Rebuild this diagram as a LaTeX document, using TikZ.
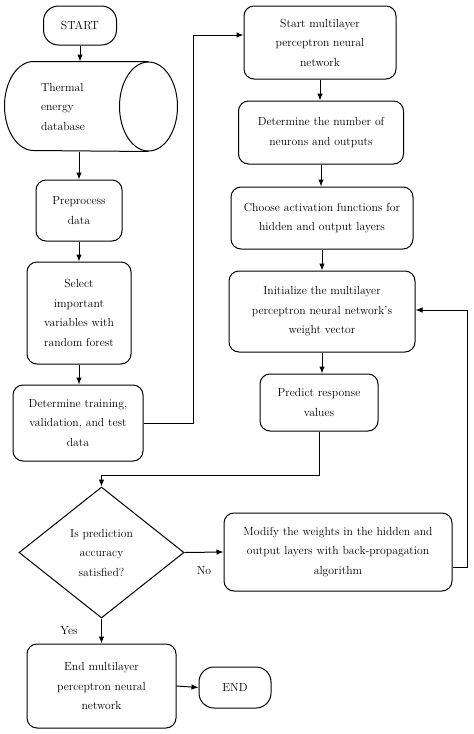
\documentclass[tikz,border=0pt]{standalone}
\usepackage{tikz}
\usetikzlibrary{shapes, arrows.meta, positioning, calc}
\tikzset{
    process/.style={
        rectangle,
        rounded corners=10pt,
        line width=1pt,
        draw=black,
        align=center,
        inner sep=0pt,
        font=\fontsize{11.7}{19.5}\selectfont,
    },
    terminal/.style={
        process,
        rounded corners=15pt,
    },
    decision/.style={
        diamond,
        line width=1pt,
        draw=black,
        align=center,
        inner sep=0pt,
        aspect=1.26,
        font=\fontsize{11.7}{19.5}\selectfont,
    },
    database/.style={
        rectangle,
        align=left,
        inner sep=0pt,
        font=\fontsize{11.7}{19.5}\selectfont,
    },
    label/.style={
        font=\fontsize{11.7}{14}\selectfont,
    },
}

\begin{document}
\begin{tikzpicture}[x=1pt,y=-1pt,>={Latex[length=7pt,width=5.5pt]},line width=1pt]
      \useasboundingbox (0,0) rectangle (474,734);

      % left column
      \node [terminal, minimum width=73pt, minimum height=39pt] (start) at (80,25.5) {START};
      \node [database, minimum width=172pt, minimum height=89pt, text width=100pt] (db) at (91,106.5) {Thermal\\energy\\database};
      % the drum round the database text
      \draw ($(db.north east)+(-29,0)$) -- ($(db.north west)+(29,0)$)
            arc[start angle=270, end angle=90, x radius=29, y radius=44.5]
            -- ($(db.south east)+(-29,0)$);
      \draw ($(db.east)+(-29,0)$) ellipse [x radius=29, y radius=44.5];
      \node [process, minimum width=86pt, minimum height=61pt] (prep) at (79,210.5) {Preprocess\\data};
      \node [process, minimum width=104pt, minimum height=102pt] (select) at (79,313) {Select\\important\\variables with\\random forest};
      \node [process, minimum width=130pt, minimum height=76pt] (split) at (78,423) {Determine training,\\validation, and test\\data};

      % right column
      \node [process, minimum width=152pt, minimum height=73pt] (mlp) at (320,42.5) {Start multilayer\\perceptron neural\\network};
      \node [process, minimum width=165pt, minimum height=63pt] (neurons) at (321,132.5) {Determine the number of\\neurons and outputs};
      \node [process, minimum width=182pt, minimum height=62pt] (act) at (322,218) {Choose activation functions for\\hidden and output layers};
      \node [process, minimum width=186pt, minimum height=81pt] (init) at (322,311.5) {Initialize the multilayer\\perceptron neural network's\\weight vector};
      \node [process, minimum width=118pt, minimum height=57pt] (predict) at (319,402.5) {Predict response\\values};

      % bottom
      \node [decision, minimum width=165pt, minimum height=131pt] (check) at (101.5,552.5) {Is prediction\\accuracy\\satisfied?};
      \node [process, minimum width=228pt, minimum height=78pt] (modify) at (338,552) {Modify the weights in the hidden and\\output layers with back-propagation\\algorithm};
      \node [process, minimum width=149pt, minimum height=84pt] (endmlp) at (101.5,686) {End multilayer\\perceptron neural\\network};
      \node [terminal, minimum width=72pt, minimum height=41pt] (end) at (235,687.5) {END};

      \coordinate (up-mlp) at (193,35);
      \coordinate (up-init) at (467,310);

      \draw[->] (start.south) -- (start.south |- db.north);
      \draw[->] (db.south -| prep.north) -- (prep.north);
      \draw[->] (prep) -- (select);
      \draw[->] (select.south) -- (select.south |- split.north);
      \draw[->] (split.east) -| (up-mlp) -- (up-mlp -| mlp.west);

      \draw[->] (mlp.south) -- (mlp.south |- neurons.north);
      \draw[->] (neurons.south) -- (neurons.south |- act.north);
      \draw[->] (act.south) -- (act.south |- init.north);
      \draw[->] (init.south) -- (init.south |- predict.north);
      \draw[->] (predict.south) -- ++(0,44) -| (check.north);

      \draw[->] (check.east) -- node[label, midway, below=10pt] {No} (modify.west);
      \draw[->] ([yshift=-15pt]modify.east) -| (up-init) -- (up-init -| init.east);
      \draw[->] (check.south) -- node[label, midway, left=20pt] {Yes} (endmlp.north);
      \draw[->] (endmlp.east) -- (end.west);
    \end{tikzpicture}
\end{document}
